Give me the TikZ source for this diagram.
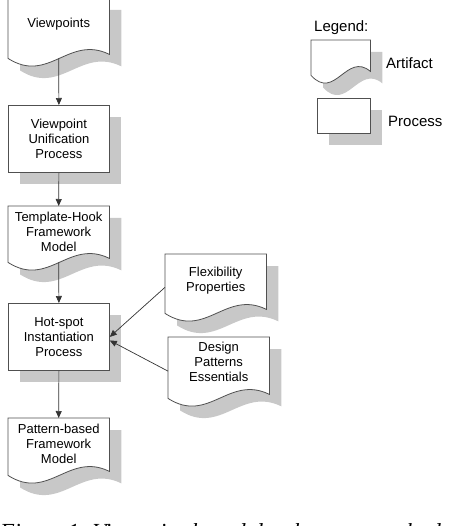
\documentclass[tikz,border=0pt]{standalone}
\usepackage{fontspec}
\setmainfont{Liberation Sans}
\newfontfamily\capfont{Liberation Serif}
\usepackage{xcolor}
\usetikzlibrary{calc,arrows.meta,positioning,shadows,backgrounds}

\definecolor{shadowgray}{HTML}{C8C8C8}
\definecolor{linegray}{HTML}{505050}

\tikzset{
  boxtext/.style={font=\fontsize{13}{15}\selectfont, align=center},
  legtext/.style={font=\fontsize{15}{17}\selectfont, anchor=west, inner sep=0pt},
  process/.style={boxtext, draw=linegray, line width=0.8pt, fill=white,
    minimum width=101, minimum height=67, anchor=north west, inner sep=0pt,
    drop shadow={shadow xshift=12pt, shadow yshift=-12pt, fill=shadowgray, opacity=1}},
  artifact/.style={boxtext, minimum width=101, anchor=north west, inner sep=0pt},
  docline/.style={fill=white, draw=linegray, line width=0.8pt},
  docshadow/.style={fill=shadowgray},
  flow/.style={draw=black!80, line width=0.7pt, -{Triangle[length=7pt,width=6pt]}},
}

% wavy document outline: node, drop of left end, offset, style
\newcommand{\docshape}[4]{%
  \fill[#4] ($(#1.north west)+#3$) -- ($(#1.north east)+#3$)
    -- ($(#1.south east)+#3+(0,4-#2)$)
    .. controls ($(#1.south west)!0.6!(#1.south east)+#3+(0,24-#2)$)
    and ($(#1.south west)!0.4!(#1.south east)+#3+(0,-26-#2)$)
    .. ($(#1.south west)+#3+(0,-#2)$) -- cycle;}

% artifact: name, options, corner, drop, text
\newcommand{\artifact}[5]{%
  \node[artifact,#2] (#1) at #3 {#5};
  \coordinate (#1 tail) at ($(#1.south)+(0,-#4)$);
  \begin{pgfonlayer}{background}
    \docshape{#1}{#4}{(12,-12)}{docshadow}
    \docshape{#1}{#4}{(0,0)}{docline}
  \end{pgfonlayer}}

\begin{document}
\begin{tikzpicture}[x=1pt,y=1pt]
  \useasboundingbox (0,0) rectangle (474,-526);

  % Main chain
  \artifact{vp}{minimum height=52}{(8,2)}{8}{Viewpoints}
  \node[process] (unify) at (8,-105) {Viewpoint\\Unification\\Process};
  \artifact{hook}{minimum height=52}{(8,-206)}{4}{Template-Hook\\Framework\\Model}
  \node[process] (hotspot) at (8,-303) {Hot-spot\\Instantiation\\Process};
  \artifact{pattern}{minimum height=52}{(8,-418)}{5}{Pattern-based\\Framework\\Model}

  % Inputs of the hot-spot process
  \artifact{flex}{minimum height=52}{(165,-254)}{7}{Flexibility\\Properties}
  \artifact{design}{minimum height=50}{(168,-337)}{11}{Design\\Patterns\\Essentials}

  \draw[flow] (vp tail) -- (unify.north);
  \draw[flow] (unify.south) -- (hook.north);
  \draw[flow] (hook tail) -- (hotspot.north);
  \draw[flow] (hotspot.south) -- (pattern.north);
  \draw[flow] (flex.188) -- (hotspot.east);
  \draw[flow] (design.190) -- (hotspot.356);

  % Legend
  \node[legtext] (legend) at (314,-28) {Legend:};
  \artifact{artdoc}{minimum width=59, minimum height=30}{(311,-40)}{5}{}
  \node[legtext] (artlabel) at (386,-63) {Artifact};
  \node[process, minimum width=53, minimum height=35] (procbox) at (317,-98) {};
  \node[legtext] (proclabel) at (388,-121) {Process};

  % Caption (cut by the page edge)
  \node[anchor=base west, inner sep=0pt, font=\capfont\itshape\fontsize{23}{25}\selectfont]
    (caption) at (0,-539) {Figure 1. Viewpoint-based development method};
\end{tikzpicture}
\end{document}
